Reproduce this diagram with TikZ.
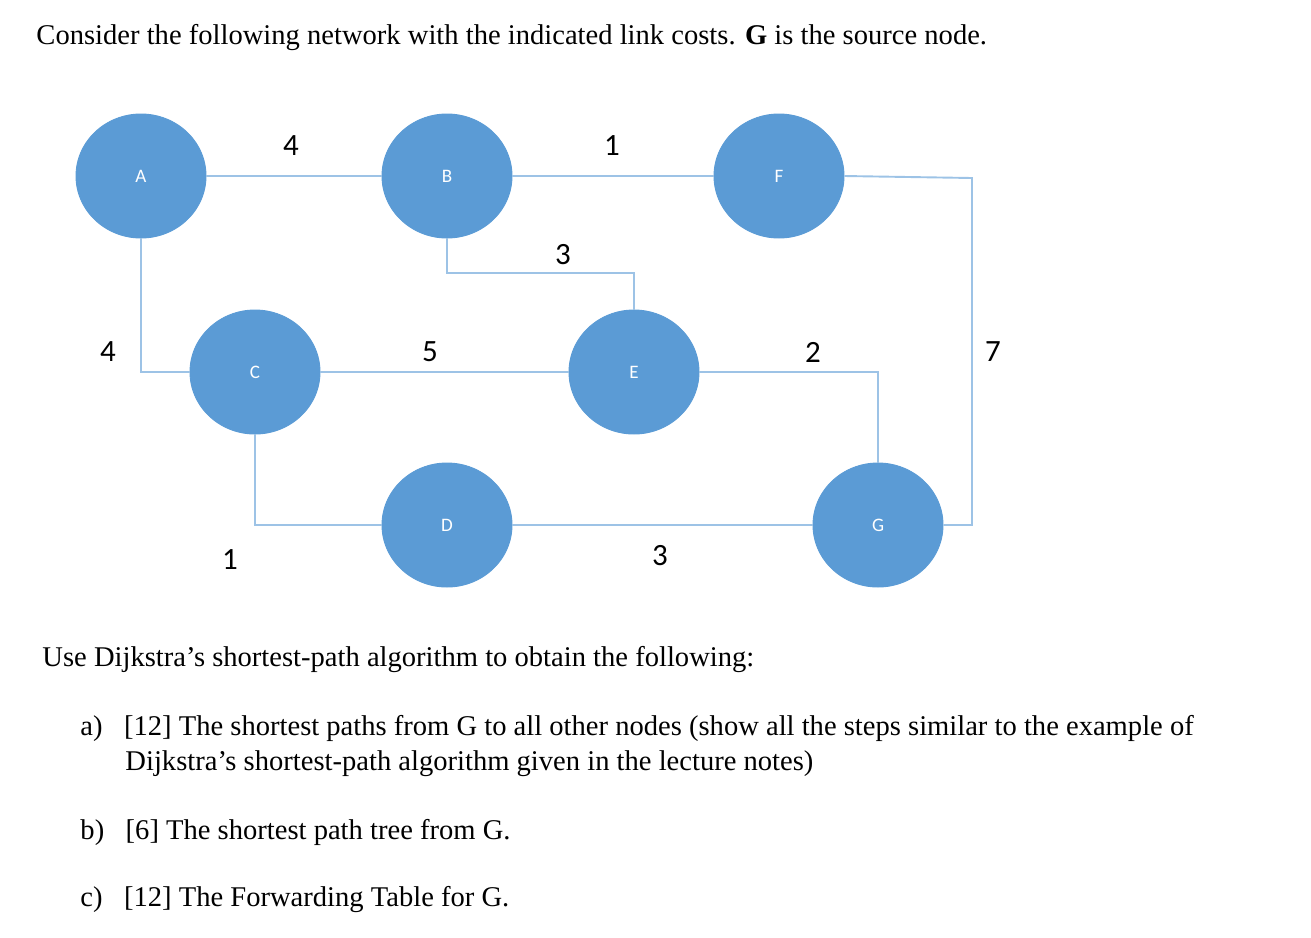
\documentclass[tikz,border=0pt]{standalone}
\usepackage{fontspec}
\setmainfont{Liberation Serif}
\newfontfamily\lbl{Carlito}
\usetikzlibrary{shapes.geometric}
\definecolor{nodeblue}{HTML}{5B9BD5}
\definecolor{linkblue}{HTML}{9DC3E6}
\begin{document}
\begin{tikzpicture}[x=0.42pt,y=-0.42pt,
  rt/.style={ellipse,minimum width=130*0.42pt,minimum height=124*0.42pt,fill=nodeblue,draw=nodeblue,inner sep=0pt,text=white,font=\lbl\fontsize{8}{8}\selectfont},
  link/.style={draw=linkblue,line width=0.8pt},
  cost/.style={font=\lbl\fontsize{13}{13}\selectfont},
  txt/.style={anchor=west,inner sep=0pt,font=\fontsize{12}{14}\selectfont}]
\useasboundingbox (0,0) rectangle (1311,937);
\coordinate (pF) at (972,178);
\coordinate (pG) at (972,525);
\coordinate (pB) at (447,273);
\coordinate (pE) at (634,273);
\coordinate (pA) at (141,372);
\coordinate (pE2) at (878,372);
\coordinate (pC) at (255,525);
\node[rt] (A) at (141,176) {A};
\node[rt] (B) at (447,176) {B};
\node[rt] (F) at (779,176) {F};
\node[rt] (C) at (255,372) {C};
\node[rt] (E) at (634,372) {E};
\node[rt] (D) at (447,525) {D};
\node[rt] (G) at (878,525) {G};
\draw[link] (A.east) -- (B.west);
\draw[link] (B.east) -- (F.west);
\draw[link] (F.east) -- (pF) -- (pG) -- (G.east);
\draw[link] (B.south) -- (pB) -- (pE) -- (E.north);
\draw[link] (A.south) -- (pA) -- (C.west);
\draw[link] (C.east) -- (E.west);
\draw[link] (E.east) -- (pE2) -- (G.north);
\draw[link] (C.south) -- (pC) -- (D.west);
\draw[link] (D.east) -- (G.west);
\node[cost] (l1) at (291,146) {4};
\node[cost] (l2) at (612,146) {1};
\node[cost] (l3) at (563,255) {3};
\node[cost] (l4) at (108,352) {4};
\node[cost] (l5) at (430,352) {5};
\node[cost] (l6) at (813,352) {2};
\node[cost] (l7) at (993,352) {7};
\node[cost] (l8) at (230,560) {1};
\node[cost] (l9) at (660,556) {3};
\node[txt] (t1) at (36,38) {Consider the following network with the indicated link costs. \textbf{G} is the source node.};
\node[txt] (t2) at (42,660) {Use Dijkstra’s shortest-path algorithm to obtain the following:};
\node[txt] (t3) at (80,728) {a)\hspace{9pt}[12] The shortest paths from G to all other nodes (show all the steps similar to the example of};
\node[txt] (t4) at (125,764) {Dijkstra’s shortest-path algorithm given in the lecture notes)};
\node[txt] (t5) at (80,832) {b)\hspace{9pt}[6] The shortest path tree from G.};
\node[txt] (t6) at (80,900) {c)\hspace{9pt}[12] The Forwarding Table for G.};
\end{tikzpicture}
\end{document}
